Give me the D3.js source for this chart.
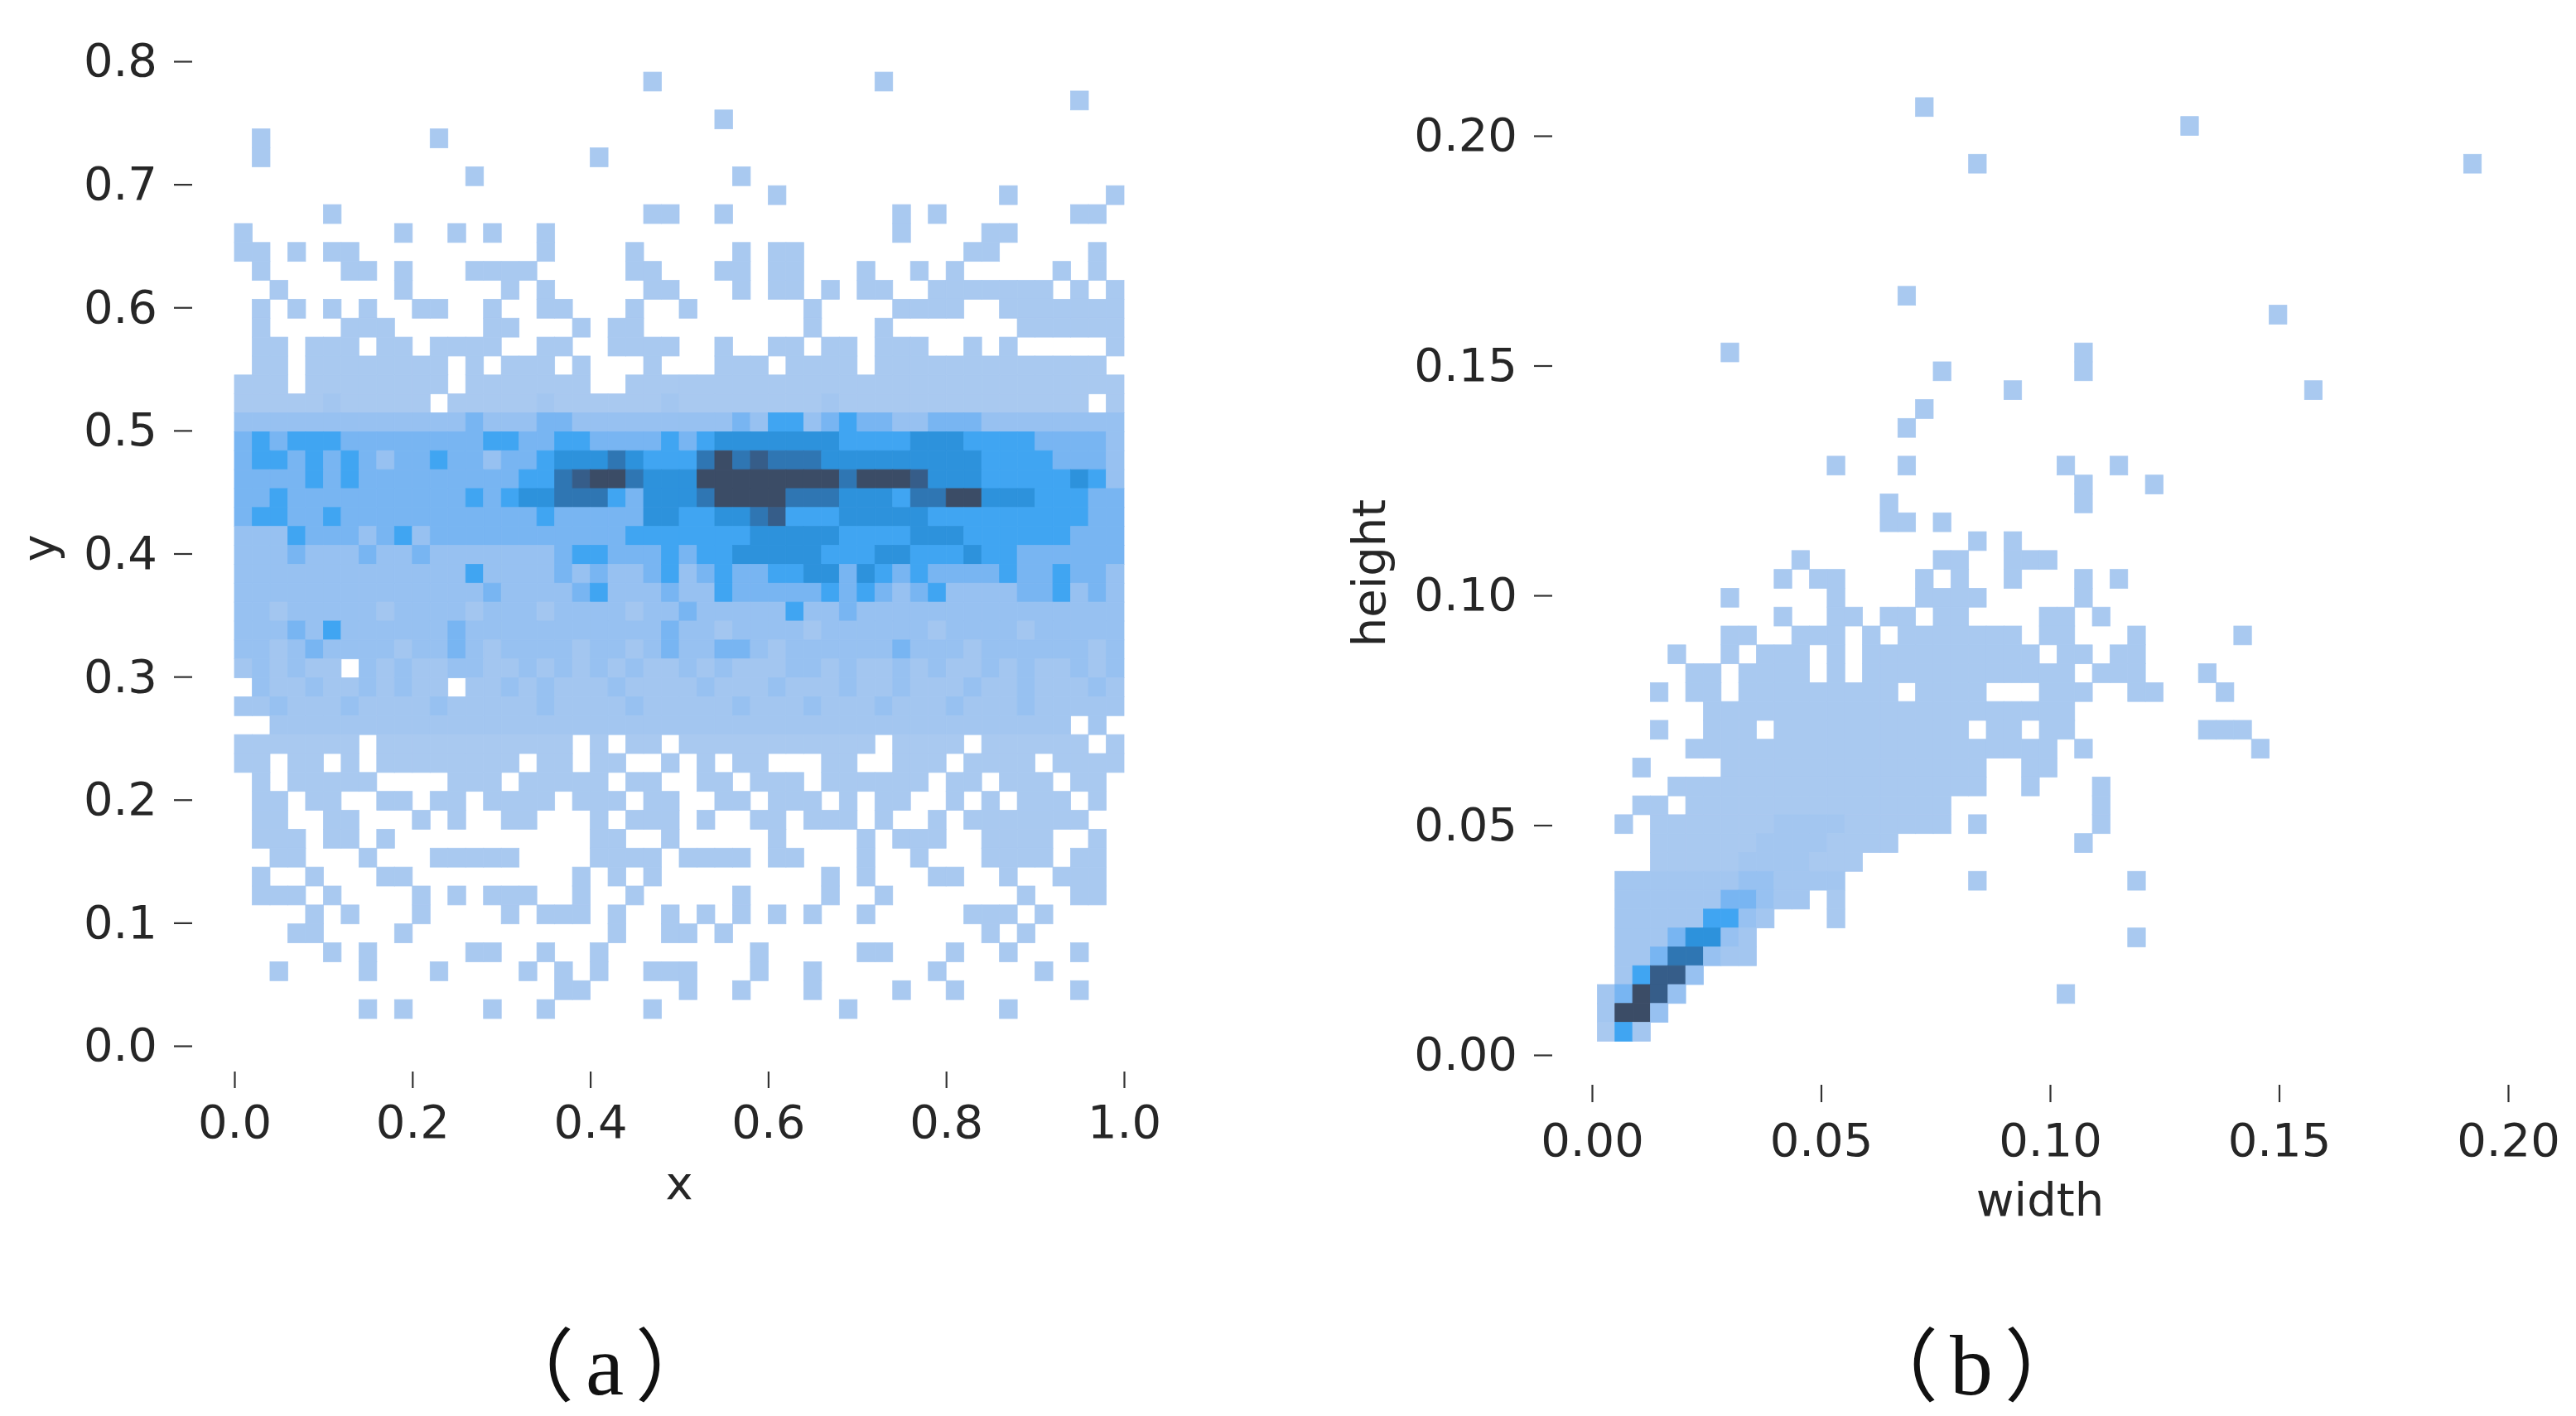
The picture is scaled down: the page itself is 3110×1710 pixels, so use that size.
<!DOCTYPE html>
<html><head><meta charset="utf-8">
<script src="https://cdn.jsdelivr.net/npm/d3@7"></script>
<style>html,body{margin:0;padding:0;background:#fff;}svg{display:block;}</style>
</head><body>
<svg id="chart" width="3110" height="1710"></svg>
<script>
// ---------------- DATA ----------------
// Panel (a): 2-D histogram of x (50 bins, 0..1) and y (50 bins). Rows listed top -> bottom.
// '.' = empty bin, 1..9 = relative count level.
const xyBinsX = [0, 0.02];          // first edge, bin width
const xyBinsY = [0.7912, 0.01538];  // top edge, bin height
const xyRows = [
".......... .......... ...1...... ......1... ..........",
".......... .......... .......... .......... .......1..",
".......... .......... .......1.. .......... ..........",
".1........ .1........ .......... .......... ..........",
".1........ .......... 1......... .......... ..........",
".......... ...1...... ........1. .......... ..........",
".......... .......... .......... 1......... ...1.....1",
".....1.... .......... ...11..1.. .......1.1 .......11.",
"1........1 ..1.1..1.. .......... .......1.. ..11......",
"11.1.11... .......1.. ..1.....1. 11........ .11.....1.",
".1....11.1 ...1111... ..11...11. 11...1..1. 1.....1.1.",
"..1......1 .....1.1.. ...11...1. 11.1.11..1 111111.1.1",
".1.1.1.1.. 11..1..11. ..1..1.... ..1....111 1..1111111",
".1....111. ....11...1 .11....... ..1...1... ....111111",
".11.111.11 .1111..11. .1111..1.. 11.11.111. .1.1.....1",
".11.111111 11.1.111.1 ...1...111 .1111.1111 111111111.",
"111.111111 11.1111111 ..11111111 1111111111 1111111111",
"1111121111 1.11111211 1111211111 1112111111 11111111.1",
"3333333333333433344333333 3334355345443344433333333",
"4545554444444455445544445 4566666665555666555544443",
"4554545434454434456667655 5797877766666666655554443",
"4444545444444444557899766 6999999997999866655555653",
"4454444444444545667775466 6799997776665779966655544",
"4554454444444444454444466 5566785556666655555555544",
"3335444345344444444444555 5555666665555666555555444",
"3334333433433333334554445 4556666655566555655444444",
"3333333333333533334343345 3454455664654544445445443",
"3333333333333343333453334 3354444454543453333445343",
"3323333323333233323333233 4333335334333333333333333",
"3334353333334333333333334 3323333233333323333233333",
"3323433332334323333233234 3344323333334333233333323",
"232322.323223322323232322 3232223323223232232322323",
".32232232322.223232223222 2322232223223222322322232",
"2232223222232222232222322 2223222322232223222322222",
"..22222222222222222222222 2222222222222222222222.2.",
"1111111.11111111111.1.11. 11111111111.1111.111111.1",
"11.11.1.11111111.11.11..1 .1.11...11..111.1111.1111",
".1.11111....111.11111.11. .11.111.111111.11.111.11.",
".11.11..11.11.1111.111.11 ..11.111.1.11..1.1.111.1.",
".11..11...1.1..11...1.111 .1..11.111.1..1.1111111..",
".111.11.1...........11..1 .....1....1.111..1111..1.",
"..11...1...11111....1111. 1111.11...1..1...1111.11.",
".1..1...11.........1.1.1. ........1.1...11..1..111.",
".111.1....1.1.111..1..1.. ...1....1..1.......1..11.",
"....1.1...1....1.111.1..1 .1.1.1.1..1.....111.1....",
"...11....1...........1..1 1.1..............1.1.....",
".....1.1.....11..1..1.... ....1.....11...1..1...1..",
"..1....1...1....1.1.1..11 1...1..1......1.....1....",
"..................11..... 1..1...1....1..1......1..",
".......1.1....1..1.....1. .........1........1......"
];

// Panel (b): 2-D histogram of width (50 bins) and height (50 bins). Rows listed top -> bottom.
// Each token "col:level" or "colA-colB:level".
const whBinsX = [0.00116, 0.00386];  // first edge, bin width
const whBinsY = [0.0030, 0.004106];  // bottom edge, bin height
const whRows = [
"18:1", "33:1", "", "21:1,49:1", "", "", "", "", "", "",
"17:1", "38:1", "", "7:1,27:1", "19:1,27:1", "23:1,40:1", "18:1", "17:1", "",
"13:1,17:1,26:1,29:1",
"27:1,31:1",
"16:1,27:1",
"16:1,17:1,19:1",
"21:1,23:1",
"11:1,19-20:1,23-25:1",
"10:1,12-13:1,18:1,20:1,23:1,27:1,29:1",
"7:1,13:1,18-21:1,27:1",
"10:1,13-14:1,16-17:1,19-20:1,25-26:1,28:1",
"7-8:1,11-13:1,15:1,17-23:1,25-26:1,30:1,36:1",
"4:1,7:1,9-11:1,13:1,15-24:1,26-27:1,29-30:1",
"5-6:1,8-11:1,13:1,15-26:1,28-30:1,34:1",
"3:1,5-6:1,8-16:1,18-21:1,25-27:1,30-31:1,35:1",
"6-26:1",
"3:1,6-8:1,10-20:1,22-23:1,25-26:1,34-36:1",
"5-25:1,27:1,37:1",
"2:1,7-21:1,24-25:1",
"4-21:1,24:1,28:1",
"2-3:1,5-19:1,28:1",
"1:1,3-9:1,10-13:2,14-19:1,21:1,28:1",
"3-8:1,9-12:2,13-16:1,27:1",
"3-7:1,8-11:2,12-14:1",
"1-7:2,8-9:3,10-13:2,21:1,30:1",
"1-6:2,7-8:4,9:3,10-11:2,13:1",
"1-5:2,6-7:5,8:3,9:2,13:1",
"1-3:2,4:4,5-6:6,7:3,8:2,30:1",
"1-2:2,3:4,4-5:7,6:3,7-8:2",
"1:2,2:5,3-4:8,5:3",
"0:2,1:4,2:9,3:8,4:3,26:1",
"0:2,1-2:9,3:3",
"0:1,1:5,2:2"
];

const xTicksA = [0, 0.2, 0.4, 0.6, 0.8, 1.0];
const yTicksA = [0, 0.1, 0.2, 0.3, 0.4, 0.5, 0.6, 0.7, 0.8];
const xTicksB = [0, 0.05, 0.10, 0.15, 0.20];
const yTicksB = [0, 0.05, 0.10, 0.15, 0.20];
const labelsA = {x: "x", y: "y", caption: ["（", "a", "）"]};
const labelsB = {x: "width", y: "height", caption: ["（", "b", "）"]};

// ---------------- DRAWING ----------------
const svg = d3.select("#chart");
svg.append("rect").attr("width", 3110).attr("height", 1710).attr("fill", "#fff");

const levelColor = d3.scaleLinear()
  .domain([1, 2, 3, 4, 5, 6, 7, 8, 9])
  .range(["#a9c9f0", "#a3c6f0", "#97c1f1", "#78b5f2", "#40a5f2", "#2d92dc", "#2f76b3", "#365d89", "#3b4c66"]);

function parseDense(rows) {
  const cells = [];
  rows.forEach((s, r) => {
    const t = s.replace(/\s+/g, "");
    for (let c = 0; c < t.length && c < 50; c++) {
      const ch = t[c];
      if (ch !== ".") cells.push({col: c, row: r, level: +ch});
    }
  });
  return cells;
}
function parseSparse(rows) {
  const cells = [];
  rows.forEach((s, r) => {
    if (!s) return;
    s.split(",").forEach(tok => {
      const [range, lv] = tok.split(":");
      const [a, b] = range.split("-").map(Number);
      const end = (b === undefined || isNaN(b)) ? a : b;
      for (let c = a; c <= end; c++) cells.push({col: c, row: r, level: +lv});
    });
  });
  return cells;
}

// Panel (a)
const xA = d3.scaleLinear().domain([0, 1]).range([283, 1357]);
const yA = d3.scaleLinear().domain([0, 0.8]).range([1263, 74]);
const cellsA = parseDense(xyRows);
svg.append("g").selectAll("rect").data(cellsA).join("rect")
  .attr("x", d => xA(xyBinsX[0] + d.col * xyBinsX[1]))
  .attr("width", d => xA(xyBinsX[0] + (d.col + 1) * xyBinsX[1]) - xA(xyBinsX[0] + d.col * xyBinsX[1]))
  .attr("y", d => yA(xyBinsY[0] - d.row * xyBinsY[1]))
  .attr("height", d => yA(xyBinsY[0] - (d.row + 1) * xyBinsY[1]) - yA(xyBinsY[0] - d.row * xyBinsY[1]))
  .attr("fill", d => levelColor(d.level))
  .attr("stroke", d => levelColor(d.level))
  .attr("stroke-width", 0.8);

// Panel (b)
const xB = d3.scaleLinear().domain([0, 0.2]).range([1922, 3028]);
const yB = d3.scaleLinear().domain([0, 0.2]).range([1274, 164]);
const nB = whRows.length;
const cellsB = parseSparse(whRows).map(d => ({col: d.col, i: nB - 1 - d.row, level: d.level}));
svg.append("g").selectAll("rect").data(cellsB).join("rect")
  .attr("x", d => xB(whBinsX[0] + d.col * whBinsX[1]))
  .attr("width", d => xB(whBinsX[0] + (d.col + 1) * whBinsX[1]) - xB(whBinsX[0] + d.col * whBinsX[1]))
  .attr("y", d => yB(whBinsY[0] + (d.i + 1) * whBinsY[1]))
  .attr("height", d => yB(whBinsY[0] + d.i * whBinsY[1]) - yB(whBinsY[0] + (d.i + 1) * whBinsY[1]))
  .attr("fill", d => levelColor(d.level))
  .attr("stroke", d => levelColor(d.level))
  .attr("stroke-width", 0.8);

// Axes
const FONT = "'DejaVu Sans', sans-serif";
const TXT = "#262626";
function styleAxis(g) {
  g.select(".domain").remove();
  g.attr("font-family", FONT).attr("font-size", 56);
  g.selectAll(".tick line").attr("stroke", "#333").attr("stroke-width", 2.2);
  g.selectAll(".tick text").attr("fill", TXT);
}
svg.append("g").attr("transform", "translate(232,0)")
  .call(d3.axisLeft(yA).tickValues(yTicksA).tickFormat(d3.format(".1f")).tickSize(22).tickPadding(20))
  .call(styleAxis);
svg.append("g").attr("transform", "translate(0,1294)")
  .call(d3.axisBottom(xA).tickValues(xTicksA).tickFormat(d3.format(".1f")).tickSize(20).tickPadding(20))
  .call(styleAxis);
svg.append("g").attr("transform", "translate(1874,0)")
  .call(d3.axisLeft(yB).tickValues(yTicksB).tickFormat(d3.format(".2f")).tickSize(22).tickPadding(20))
  .call(styleAxis);
svg.append("g").attr("transform", "translate(0,1310)")
  .call(d3.axisBottom(xB).tickValues(xTicksB).tickFormat(d3.format(".2f")).tickSize(21).tickPadding(25))
  .call(styleAxis);

// Axis labels
function label(x, y, text, rot) {
  const t = svg.append("text").attr("x", x).attr("y", y).text(text)
    .attr("font-family", FONT).attr("font-size", 56).attr("fill", TXT)
    .attr("text-anchor", "middle");
  if (rot) t.attr("transform", `rotate(-90,${x},${y})`);
  return t;
}
label(820, 1448, labelsA.x);
label(66, 662, labelsA.y, true);
label(2463, 1468, labelsB.x);
label(1672, 692, labelsB.y, true);

// Captions: full-width parentheses around a serif letter
function caption(x, parts) {
  const t = svg.append("text").attr("x", x).attr("y", 1684)
    .attr("font-family", "'Liberation Serif', 'Noto Sans CJK SC', serif")
    .attr("font-size", 96).attr("fill", "#111").attr("text-anchor", "middle");
  t.append("tspan").text(parts[0]);
  t.append("tspan").attr("dx", 14).attr("font-size", 104).text(parts[1]);
  t.append("tspan").attr("dx", 14).text(parts[2]);
}
caption(730, labelsA.caption);
caption(2380, labelsB.caption);
</script>
</body></html>
